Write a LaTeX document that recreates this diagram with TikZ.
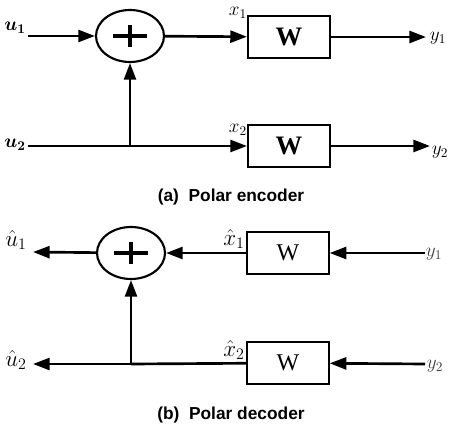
\documentclass[tikz,border=0pt]{standalone}
\usepackage{amsmath}
\usepackage{fontspec}
\setmainfont{Liberation Serif}
\setsansfont{Liberation Sans}
\usetikzlibrary{arrows.meta,shapes.geometric,positioning}

\tikzset{
  sig/.style={line width=2pt,-{Triangle[length=12.5pt,width=9pt]}},
  wire/.style={line width=2pt},
  adder/.style={ellipse,draw,line width=1.6pt,minimum width=51pt,minimum height=39pt,inner sep=0pt},
  plusbar/.style={line width=3pt},
  chan/.style={rectangle,draw,line width=1.6pt,minimum width=61.5pt,minimum height=31.5pt,inner sep=0pt,font=\fontsize{20}{20}\selectfont\bfseries},
  chanthin/.style={chan,line width=1pt,font=\fontsize{18}{18}\selectfont},
  lab/.style={inner sep=0.75pt,font=\fontsize{14.4}{15}\selectfont},
  labhat/.style={inner sep=0.75pt,font=\fontsize{17.28}{18}\selectfont},
  captext/.style={inner sep=0.75pt,font=\sffamily\bfseries\fontsize{13}{14}\selectfont}
}
\newcommand{\plusmark}[1]{%
  \draw [plusbar] ([xshift=-12.4pt]#1.center) -- ([xshift=12.4pt]#1.center);
  \draw [plusbar] ([yshift=-8.6pt]#1.center) -- ([yshift=8.6pt]#1.center);}

\begin{document}
\begin{tikzpicture}[x=0.75pt,y=0.75pt,yscale=-1,xscale=1]
\useasboundingbox (0,0) rectangle (474,427);

% encoder
\node [adder] (add1) at (130,36) {};
\plusmark{add1}
\node [chan] (w1) at (289,37) {W};
\node [chan] (w2) at (289,146) {W};
\coordinate (u1) at (28,36);
\coordinate (u2) at (28,146);
\coordinate (y1) at (426,37);
\coordinate (y2) at (430,146);
\coordinate (j1) at (130,146);

\draw [sig] (u1) -- (add1);
\draw [sig] (add1) -- (w1);
\draw [sig] (w1) -- (y1);
\draw [wire] (u2) -- (j1);
\draw [sig] (j1) -- (w2);
\draw [sig] (w2) -- (y2);
\draw [sig] (j1) -- (add1);

% Text Node
\node [lab] (lu1) at (15,28) {$\boldsymbol{u_1}$};
\node [lab] (lu2) at (15,145) {$\boldsymbol{u_2}$};
\node [lab] (lx1) at (238,13) {$x_1$};
\node [lab] (lx2) at (238,130) {$x_2$};
\node [lab] (ly1) at (438,38) {$y_1$};
\node [lab] (ly2) at (440,152) {$y_2$};
\node [captext] (capa) at (231,197) {(a)\ \ Polar encoder};

% decoder
\node [adder] (add2) at (131,253) {};
\plusmark{add2}
\node [chanthin] (w3) at (288,253) {W};
\node [chanthin] (w4) at (288,363) {W};
\coordinate (v1) at (425,253);
\coordinate (v2) at (425,364);
\coordinate (uh1) at (33,252);
\coordinate (uh2) at (33,364);
\coordinate (j2) at (131,364);

\draw [sig] (v1) -- (w3);
\draw [sig] (w3) -- (add2);
\draw [sig] (add2) -- (uh1);
\draw [sig] (v2) -- (w4);
\draw [wire] (w4) -- (j2);
\draw [sig] (j2) -- (uh2);
\draw [sig] (j2) -- (add2);

% Text Node
\node [labhat] (lh1) at (16,240) {$\hat{u}_1$};
\node [labhat] (lh2) at (16,360) {$\hat{u}_2$};
\node [labhat] (lxh1) at (234,239) {$\hat{x}_1$};
\node [labhat] (lxh2) at (234,350) {$\hat{x}_2$};
\node [lab,text=black!75] (lv1) at (434,254) {$y_1$};
\node [lab,text=black!75] (lv2) at (435,366) {$y_2$};
\node [captext] (capb) at (231,415) {(b)\ \ Polar decoder};

\end{tikzpicture}
\end{document}
